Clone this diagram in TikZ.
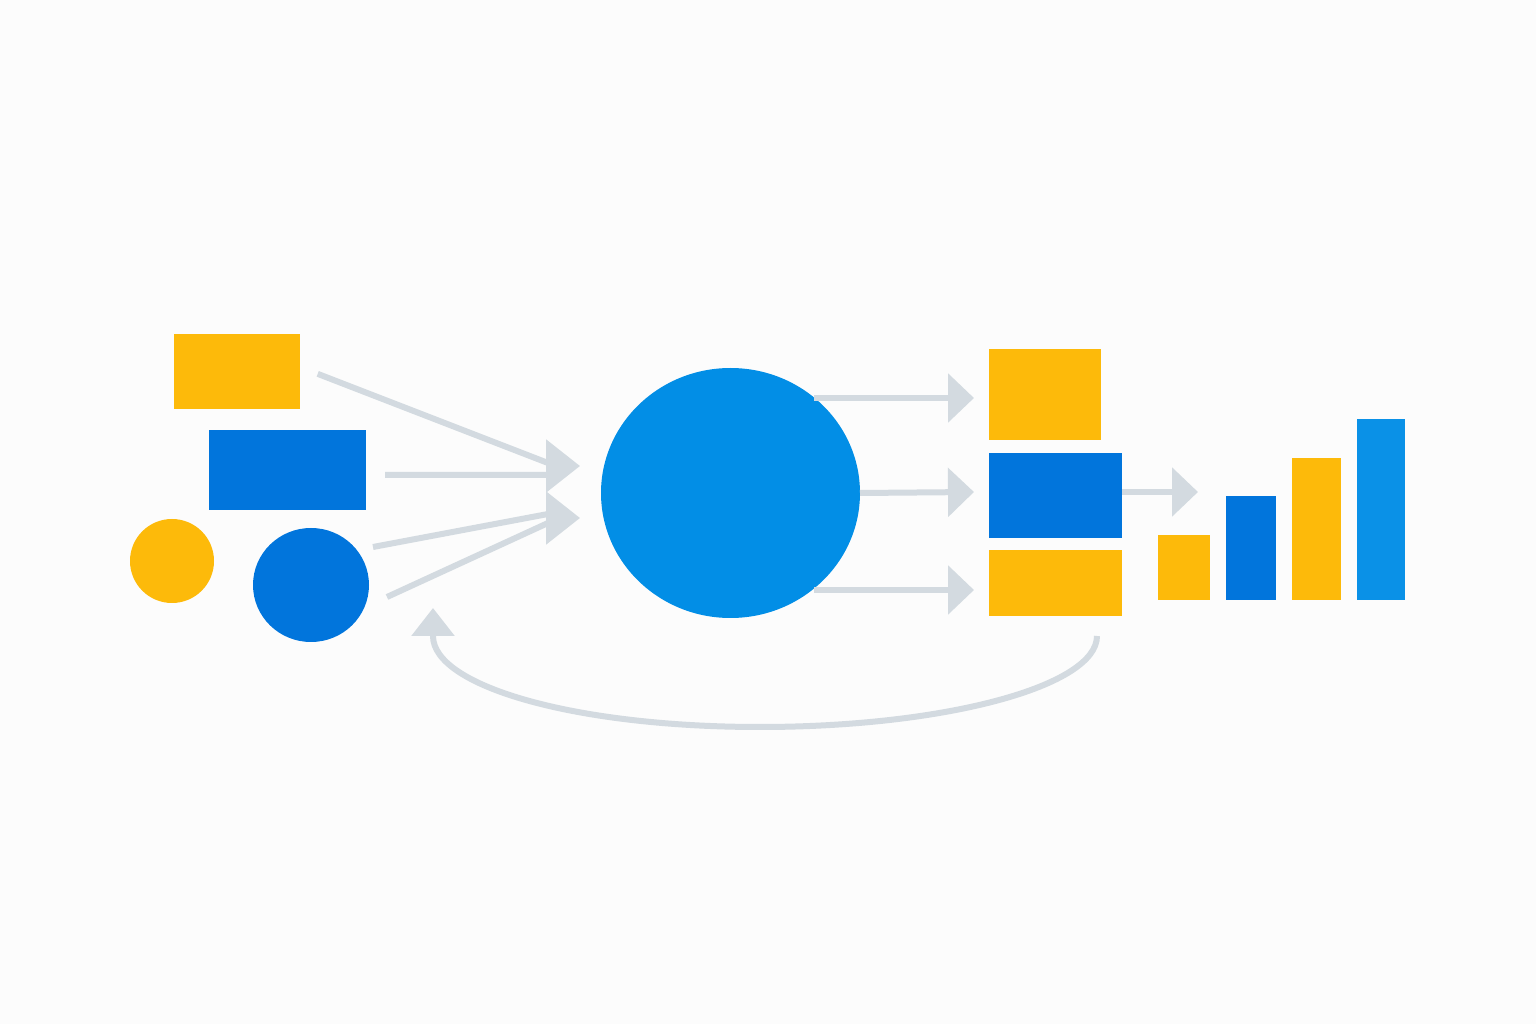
\documentclass[tikz,border=0pt]{standalone}
\usepackage{amsmath}
\usepackage{tikz}
\usetikzlibrary{arrows.meta,shapes.geometric}
\definecolor{sun}{HTML}{FDBA0A}
\definecolor{deep}{HTML}{0175DC}
\definecolor{sky}{HTML}{028EE6}
\definecolor{flowgray}{HTML}{D3DAE0}
\begin{document}
\begin{tikzpicture}
[x=0.1mm,y=-0.1mm,
box/.style={draw=none,inner sep=0pt,outer sep=0pt},
ybox/.style={box,fill=sun},
bbox/.style={box,fill=deep},
feed/.style={color=flowgray,line width=0.6mm},
flow/.style={feed,-{Triangle[length=2.6mm,width=4.8mm]}},
bigflow/.style={feed,-{Triangle[length=3.4mm,width=5.2mm]}}]
\fill[white!98!gray] (0,0) rectangle (1536,1024);
\useasboundingbox (0,0) rectangle (1536,1024);
% inputs
\node[ybox,minimum width=12.6mm,minimum height=7.5mm] (in1) at (237,371.5) {};
\node[bbox,minimum width=15.7mm,minimum height=8mm] (in2) at (287.5,470) {};
\node[ybox,circle,minimum size=8.4mm] (in3) at (172,561) {};
\node[bbox,ellipse,minimum width=11.6mm,minimum height=11.4mm] (in4) at (311,585) {};
% hub
\node[box,ellipse,fill=sky,minimum width=25.9mm,minimum height=25mm] (hub) at (730.5,493) {};
% outputs
\node[ybox,minimum width=11.2mm,minimum height=9.1mm] (out1) at (1045,394.5) {};
\node[bbox,minimum width=13.3mm,minimum height=8.5mm] (out2) at (1055.5,495.5) {};
\node[ybox,minimum width=13.3mm,minimum height=6.6mm] (out3) at (1055.5,583) {};
% bars
\node[ybox,minimum width=5.2mm,minimum height=6.5mm,anchor=south] (bar1) at (1184,600) {};
\node[bbox,minimum width=5mm,minimum height=10.4mm,anchor=south] (bar2) at (1251,600) {};
\node[ybox,minimum width=4.9mm,minimum height=14.2mm,anchor=south] (bar3) at (1316.5,600) {};
\node[box,fill=sky!97!white,minimum width=4.8mm,minimum height=18.1mm,anchor=south] (bar4) at (1381,600) {};
\coordinate (headA) at (548,466);
\coordinate (tipA) at (580,466);
\coordinate (headB) at (548,518);
\coordinate (tipB) at (580,518);
\coordinate (tipC) at (1198,492);
\coordinate (back) at (433,636);
\path[feed]
([yshift=0.45mm]in1.east) edge[shorten <=1.9mm] ([yshift=0.3mm]headA)
([yshift=-0.5mm]in2.east) edge[shorten <=1.9mm] ([yshift=-0.9mm]headA)
(373,547) edge ([yshift=0.4mm]headB)
(387,597) edge ([yshift=-0.5mm]headB);
\path[bigflow]
(headA) edge[shorten <=-1mm] (tipA)
(headB) edge[shorten <=-1mm] (tipB);
\path[flow]
(814,398) edge (974,398)
(hub.east) edge (974,492)
(814,590) edge (974,590)
([yshift=0.35mm]out2.east) edge (tipC);
\draw[feed,-{Triangle[length=2.8mm,width=4.2mm]}] ([xshift=-2.5mm,yshift=-2mm]out3.south east)
.. controls (1097,686) and (946,727) .. (760,727)
.. controls (574,727) and (433,686) .. (back) -- (433,608);
\end{tikzpicture}
\end{document}
